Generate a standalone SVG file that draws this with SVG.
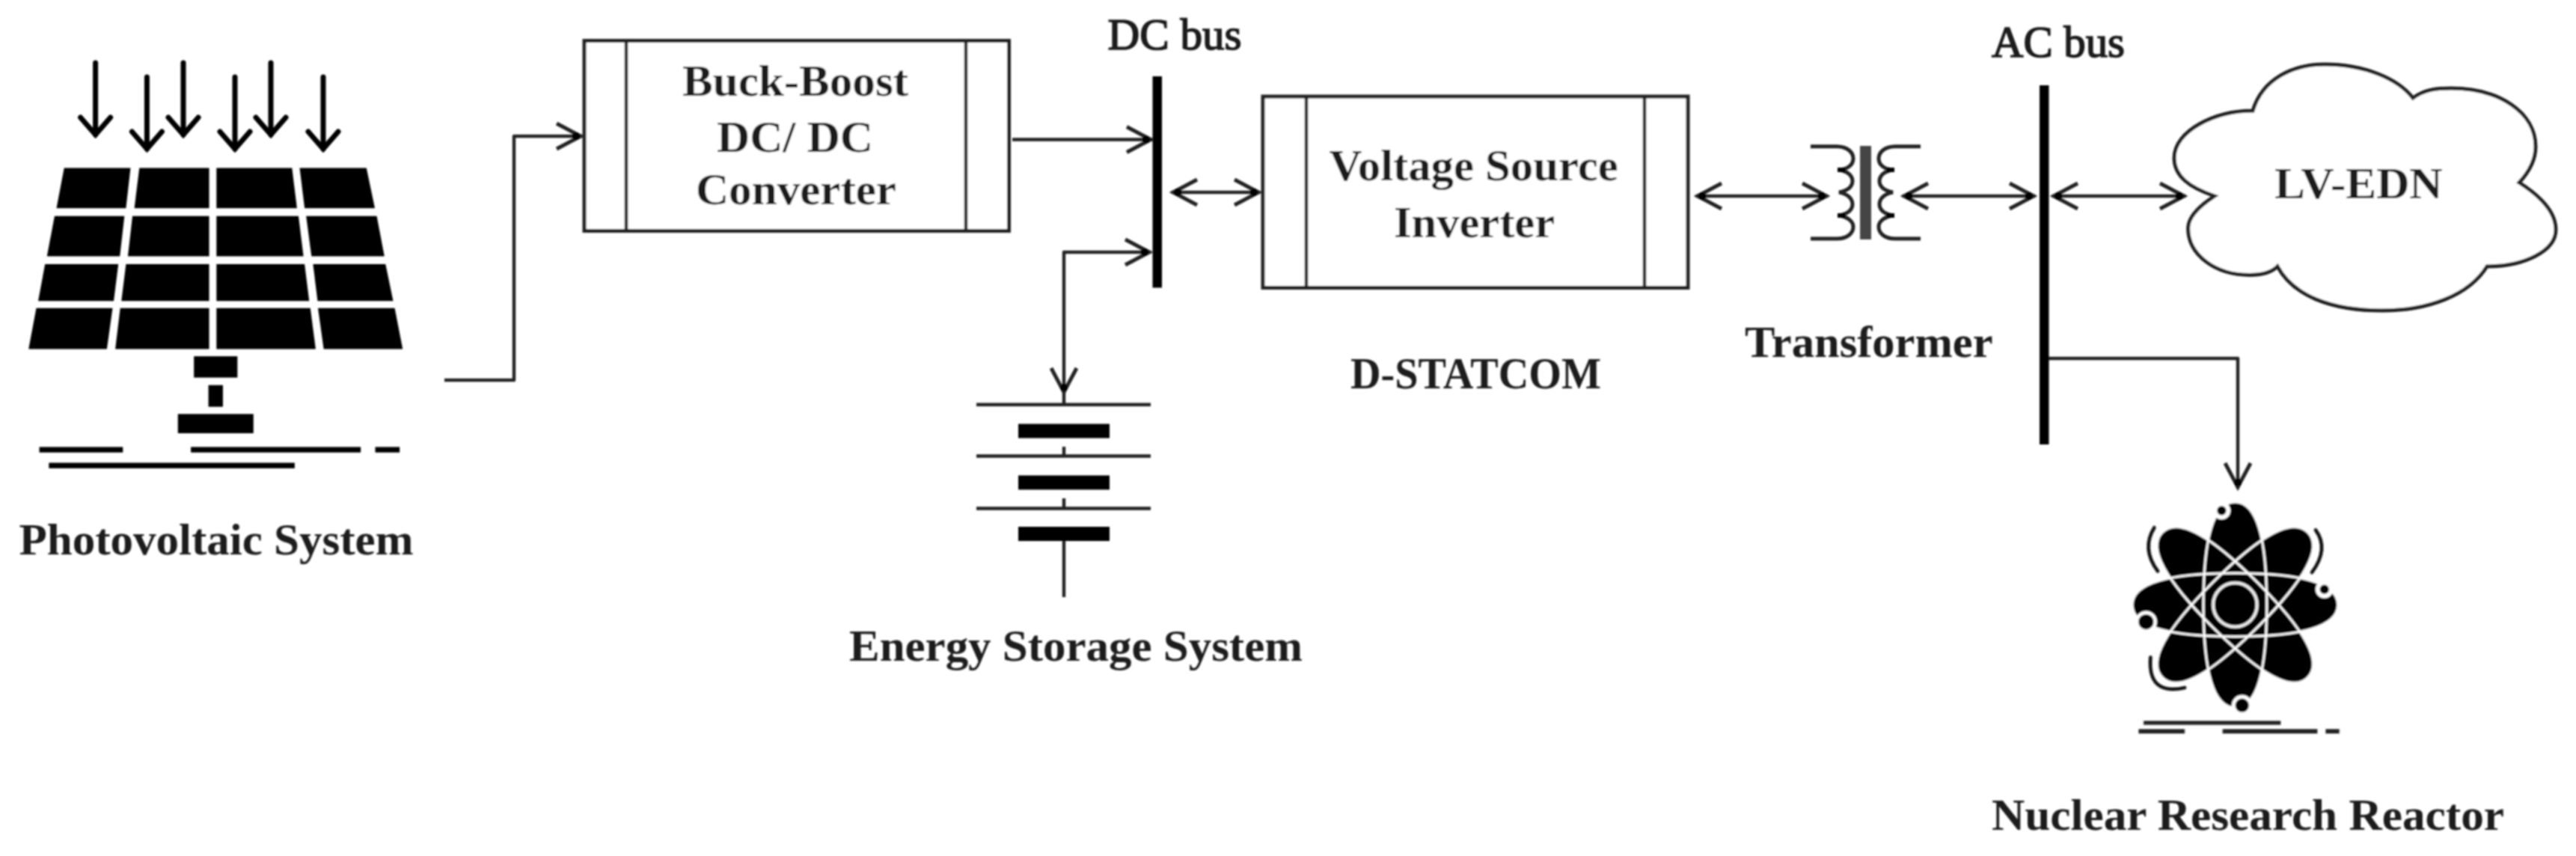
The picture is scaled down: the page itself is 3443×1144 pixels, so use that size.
<svg xmlns="http://www.w3.org/2000/svg" width="3443" height="1144" viewBox="0 0 3443 1144">
<defs>
<style>
.t{font-family:"Liberation Serif","Times New Roman",serif;font-size:59px;font-weight:bold;fill:#1a1a1a}
.r{font-weight:normal;stroke:#1a1a1a;stroke-width:1.6}
.box{fill:#fff;stroke:#222;stroke-width:5}
.wire{fill:none;stroke:#222;stroke-width:4.5;stroke-linejoin:round}
.coil{fill:none;stroke:#222;stroke-width:5}
.ray{fill:none;stroke:#000;stroke-width:7;stroke-linecap:round}
.bus{fill:#000}
.orbit{fill:none;stroke:#fff;stroke-width:10}
</style>
<filter id="soft" x="0" y="0" width="3443" height="1144" filterUnits="userSpaceOnUse"><feGaussianBlur stdDeviation="1.3"/></filter>
<marker id="open" markerUnits="userSpaceOnUse" markerWidth="48" markerHeight="48" viewBox="-38 -24 48 48" refX="0" refY="0" orient="auto-start-reverse"><path d="M-34,-17 L-2,0 L-34,17" fill="none" stroke="#222" stroke-width="5" stroke-miterlimit="10"/><circle cx="-8" r="5" fill="#000"/></marker>
<marker id="sun" markerUnits="userSpaceOnUse" markerWidth="60" markerHeight="60" viewBox="-36 -30 60 60" refX="0" refY="0" orient="auto"><path d="M-23,-20 L0,0 L-23,20" fill="none" stroke="#000" stroke-width="7" stroke-linecap="round"/></marker>
<path id="orb" d="M412,0 C412,85 270,127 0,127 C-270,127 -412,85 -412,0 C-412,-85 -270,-127 0,-127 C270,-127 412,-85 412,0Z"/>
</defs>
<rect width="3443" height="1144" fill="#fff"/>
<g filter="url(#soft)">
<g id="connectors">
<path class="wire" marker-end="url(#open)" d="M594,508 H687 V182 H778"/>
<path class="wire" marker-end="url(#open)" d="M1353,186.5 H1540"/>
<path class="wire" marker-start="url(#open)" marker-end="url(#open)" d="M1566,257 H1684"/>
<path class="wire" marker-start="url(#open)" marker-end="url(#open)" d="M1538,337 H1422 V526"/>
<path class="wire" marker-start="url(#open)" marker-end="url(#open)" d="M2267,262 H2443"/>
<path class="wire" marker-start="url(#open)" marker-end="url(#open)" d="M2543,262 H2720"/>
<path class="wire" marker-start="url(#open)" marker-end="url(#open)" d="M2743,262 H2921"/>
<path class="wire" marker-end="url(#open)" d="M2738,479 H2991 V653"/>
</g>
<g id="pv">
<path class="ray" marker-end="url(#sun)" d="M127.6,84 V180"/>
<path class="ray" marker-end="url(#sun)" d="M196.4,103 V199"/>
<path class="ray" marker-end="url(#sun)" d="M245,84 V180"/>
<path class="ray" marker-end="url(#sun)" d="M314,103 V199"/>
<path class="ray" marker-end="url(#sun)" d="M362,84 V180"/>
<path class="ray" marker-end="url(#sun)" d="M432,103 V199"/>
<g transform="translate(0,50) scale(.5102,.4592)" fill="#000">
<polygon points="168,380 342,380 330,497 148,497"/><polygon points="365,380 548,380 548,497 352,497"/><polygon points="567,380 765,380 778,497 567,497"/><polygon points="785,380 960,380 982,497 798,497"/>
<polygon points="143,520 326,520 314,637 123,637"/><polygon points="347,520 548,520 548,637 335,637"/><polygon points="567,520 782,520 795,637 567,637"/><polygon points="802,520 987,520 1007,637 816,637"/>
<polygon points="118,660 310,660 298,767 100,767"/><polygon points="330,660 548,660 548,767 318,767"/><polygon points="567,660 798,660 810,767 567,767"/><polygon points="820,660 1010,660 1030,767 832,767"/>
<polygon points="95,788 295,788 280,907 75,907"/><polygon points="315,788 548,788 548,907 302,907"/><polygon points="567,788 813,788 827,907 567,907"/><polygon points="833,788 1034,788 1055,907 848,907"/>
<rect x="508" y="928" width="114" height="62"/><rect x="546" y="1012" width="38" height="63"/><rect x="466" y="1096" width="198" height="56"/>
<rect x="103" y="1192" width="219" height="16"/><rect x="500" y="1192" width="445" height="16"/><rect x="983" y="1192" width="64" height="16"/><rect x="128" y="1238" width="644" height="16"/>
</g>
<text class="t" x="25.5" y="741" textLength="527" lengthAdjust="spacingAndGlyphs">Photovoltaic System</text>
</g>
<g id="buck-boost">
<rect class="box" x="781" y="54.5" width="567.5" height="254"/>
<path class="wire" d="M837,54.5 V308.5 M1291,54.5 V308.5"/>
<text class="t" x="912" y="127.5" textLength="302" lengthAdjust="spacingAndGlyphs">Buck-Boost</text>
<text class="t" x="958" y="203" textLength="209" lengthAdjust="spacingAndGlyphs">DC/ DC</text>
<text class="t" x="930" y="273" textLength="268" lengthAdjust="spacingAndGlyphs">Converter</text>
</g>
<g id="dc-bus">
<rect class="bus" x="1540.5" y="102" width="12.5" height="282.5"/>
<text class="t r" x="1480.6" y="66" textLength="179" lengthAdjust="spacingAndGlyphs">DC bus</text>
</g>
<g id="storage">
<path class="wire" d="M1305,540.7 H1538 M1305,609.6 H1538 M1305,679.6 H1538 M1422,526 V540.7 M1422,597 V609.6 M1422,666 V679.6 M1422,723 V798"/>
<rect class="bus" x="1361" y="566.5" width="122" height="19"/><rect class="bus" x="1361" y="635.4" width="122" height="19"/><rect class="bus" x="1361" y="704" width="122" height="19"/>
<text class="t" x="1135" y="883" textLength="606" lengthAdjust="spacingAndGlyphs">Energy Storage System</text>
</g>
<g id="vsi">
<rect class="box" x="1688" y="129" width="568" height="255.5"/>
<path class="wire" d="M1746,129 V384.5 M2198,129 V384.5"/>
<text class="t" x="1776.6" y="241" textLength="386" lengthAdjust="spacingAndGlyphs">Voltage Source</text>
<text class="t" x="1863" y="317" textLength="215" lengthAdjust="spacingAndGlyphs">Inverter</text>
<text class="t" x="1805" y="519" textLength="335" lengthAdjust="spacingAndGlyphs">D-STATCOM</text>
</g>
<g id="transformer">
<rect x="2486" y="195" width="15" height="125" fill="#444"/>
<path class="coil" d="M2420,195.7 H2455 C2470,196 2477,204 2477,212 C2477,220 2470,226 2458,227 C2470,229 2476,235 2476,242 C2476,249 2470,255 2458,257 C2470,259 2476,266 2476,273 C2476,280 2470,286 2458,288 C2470,290 2477,296 2477,303 C2477,311 2470,319 2455,319 H2420"/>
<path class="coil" d="M2567,195.7 H2533 C2518,196 2511,204 2511,212 C2511,220 2518,226 2530,227 C2518,229 2512,235 2512,242 C2512,249 2518,255 2530,257 C2518,259 2512,266 2512,273 C2512,280 2518,286 2530,288 C2518,290 2511,296 2511,303 C2511,311 2518,319 2533,319 H2567"/>
<path d="M2456,227 H2466 M2456,288 H2466 M2522,227 H2532 M2522,288 H2532" stroke="#000" stroke-width="6" fill="none"/>
<text class="t" x="2332" y="477" textLength="331.6" lengthAdjust="spacingAndGlyphs">Transformer</text>
</g>
<g id="ac-bus">
<rect class="bus" x="2726" y="114" width="12.5" height="480"/>
<text class="t r" x="2662" y="75.5" textLength="178" lengthAdjust="spacingAndGlyphs">AC bus</text>
</g>
<g id="lv-edn">
<path fill="#fff" stroke="#222" stroke-width="5" stroke-linejoin="miter" d="M2960,262 C2925,250 2906,235 2906,211 C2906,175 2960,148 3011,148 C3024,105 3065,86 3107,86 C3160,86 3205,105 3225,131 C3240,120 3255,118 3276,118 C3340,118 3389,150 3389,196 C3389,215 3380,230 3367,244 C3400,265 3416,285 3416,307 C3416,335 3375,356 3324,356 C3300,395 3245,415 3184,415 C3115,415 3065,395 3044,356 C3035,365 3022,367.5 3007,367.5 C2960,367.5 2924.6,340 2924.6,305 C2924.6,290 2940,275 2960,262 Z"/>
<text class="t" x="3040" y="265" textLength="224.6" lengthAdjust="spacingAndGlyphs">LV-EDN</text>
</g>
<g id="reactor">
<g transform="translate(2780,620) scale(.33333)">
<g transform="translate(622,565)" fill="#000"><use href="#orb"/><use href="#orb" transform="rotate(45)"/><use href="#orb" transform="rotate(90)"/><use href="#orb" transform="rotate(135)"/></g>
<g transform="translate(622,565)" class="orbit"><use href="#orb"/><use href="#orb" transform="rotate(45)"/><use href="#orb" transform="rotate(90)"/><use href="#orb" transform="rotate(135)"/></g>
<circle cx="622" cy="565" r="120" fill="#000"/>
<circle cx="622" cy="565" r="88" fill="none" stroke="#eee" stroke-width="13"/>
<g fill="#fff"><circle cx="568" cy="187" r="36"/><circle cx="980" cy="503" r="36"/><circle cx="265" cy="633" r="44"/><circle cx="650" cy="968" r="42"/></g>
<g fill="#000"><circle cx="568" cy="187" r="18"/><circle cx="980" cy="503" r="18"/><circle cx="265" cy="633" r="30"/><circle cx="650" cy="968" r="27"/></g>
<path d="M298,255 Q245,340 312,430 M945,265 Q1000,340 930,435 M283,775 Q270,930 420,897" fill="none" stroke="#111" stroke-width="14" stroke-linecap="round"/>
<g fill="#222"><rect x="255" y="1030" width="550" height="16"/><rect x="235" y="1063" width="185" height="18"/><rect x="572" y="1063" width="380" height="18"/><rect x="985" y="1063" width="55" height="18"/></g>
</g>
<text class="t" x="2662" y="1109" textLength="685" lengthAdjust="spacingAndGlyphs">Nuclear Research Reactor</text>
</g>
</g>
</svg>
